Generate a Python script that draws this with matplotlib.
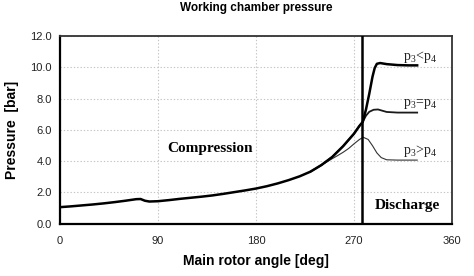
import matplotlib
matplotlib.use("Agg")
import matplotlib.pyplot as plt

# Common compression curve (angle in deg, pressure in bar)
common_angle = [0, 10, 20, 30, 40, 50, 60, 70, 74, 78, 82, 90, 100, 110, 120, 130, 140,
                150, 160, 170, 180, 190, 200, 210, 220, 230, 240, 250, 260, 265, 270, 275, 278]
common_p = [1.05, 1.10, 1.16, 1.22, 1.29, 1.37, 1.46, 1.56, 1.57, 1.46, 1.41, 1.43, 1.50,
            1.58, 1.65, 1.72, 1.80, 1.90, 2.01, 2.12, 2.24, 2.39, 2.57, 2.78, 3.02, 3.32,
            3.74, 4.26, 4.95, 5.35, 5.75, 6.25, 6.50]

# Discharge branches
lt_angle = [278, 281, 284, 287, 289, 291, 294, 300, 310, 320, 328]
lt_p = [6.50, 7.3, 8.3, 9.4, 9.95, 10.22, 10.27, 10.2, 10.14, 10.12, 10.12]

eq_angle = [278, 281, 284, 288, 292, 296, 300, 310, 320, 328]
eq_p = [6.50, 6.9, 7.15, 7.28, 7.30, 7.22, 7.14, 7.10, 7.10, 7.10]

gt_angle = [240, 245, 250, 255, 260, 265, 270, 275, 278.5, 283, 287, 291, 295, 300, 310, 320, 328]
gt_p = [3.74, 3.94, 4.15, 4.35, 4.56, 4.80, 5.10, 5.38, 5.52, 5.38, 4.98, 4.52, 4.22, 4.08,
        4.06, 4.06, 4.06]

x_ticks = [0, 90, 180, 270, 360]
y_ticks = [0.0, 2.0, 4.0, 6.0, 8.0, 10.0, 12.0]
discharge_start = 277.3

plt.rcParams['font.family'] = ['Liberation Sans', 'DejaVu Sans']
plt.rcParams['mathtext.fontset'] = 'custom'
plt.rcParams['mathtext.rm'] = 'Liberation Serif'
plt.rcParams['mathtext.it'] = 'Liberation Serif:italic'

fig = plt.figure(figsize=(4.74, 2.76), dpi=100)
ax = fig.add_axes([0.1266, 0.19, 0.827, 0.6796])

# Curves
ax.plot(common_angle + lt_angle[1:], common_p + lt_p[1:], color='black', lw=1.8, zorder=4)
idx = common_angle.index(230)
ax.plot(common_angle[idx:] + eq_angle[1:], common_p[idx:] + eq_p[1:], color='#1a1a1a',
        lw=1.3, zorder=3)
ax.plot(gt_angle, gt_p, color='#333333', lw=0.8, zorder=3)

ax.set_xlim(0, 360)
ax.set_ylim(0, 12)
ax.set_xticks(x_ticks)
ax.set_xticklabels([str(v) for v in x_ticks])
ax.set_yticks(y_ticks)
ax.set_yticklabels([f"{v:.1f}" for v in y_ticks])
ax.tick_params(length=0, labelsize=8, pad=6, colors='#222222')
ax.tick_params(axis='x', pad=9)

ax.grid(True, color='#c4c4c4', linestyle=(0, (1.2, 1.8)), lw=0.8)
ax.set_axisbelow(True)

for side in ['left', 'bottom']:
    ax.spines[side].set_linewidth(1.6)
    ax.spines[side].set_color('black')
for side in ['top', 'right']:
    ax.spines[side].set_linewidth(1.3)
    ax.spines[side].set_color('#333333')

ax.axvline(discharge_start, color='black', lw=1.8, zorder=5)

ax.set_xlabel('Main rotor angle [deg]', fontsize=10, fontweight='bold', labelpad=6)
ax.set_ylabel('Pressure  [bar]', fontsize=10, fontweight='bold', labelpad=8)
ax.set_title('Working chamber pressure', fontsize=8.5, fontweight='bold', pad=18)

ax.text(138, 4.8, 'Compression', fontsize=11, fontweight='bold',
        family='Liberation Serif', ha='center', va='center')
ax.text(318.7, 1.18, 'Discharge', fontsize=11, fontweight='bold',
        family='Liberation Serif', ha='center', va='center')

for label, yv in [('p$_3$<p$_4$', 10.65), ('p$_3$=p$_4$', 7.64), ('p$_3$>p$_4$', 4.64)]:
    ax.text(331, yv, label, fontsize=10, family='Liberation Serif',
            ha='center', va='center', color='#222222')

fig.savefig('out.png', dpi=100)
